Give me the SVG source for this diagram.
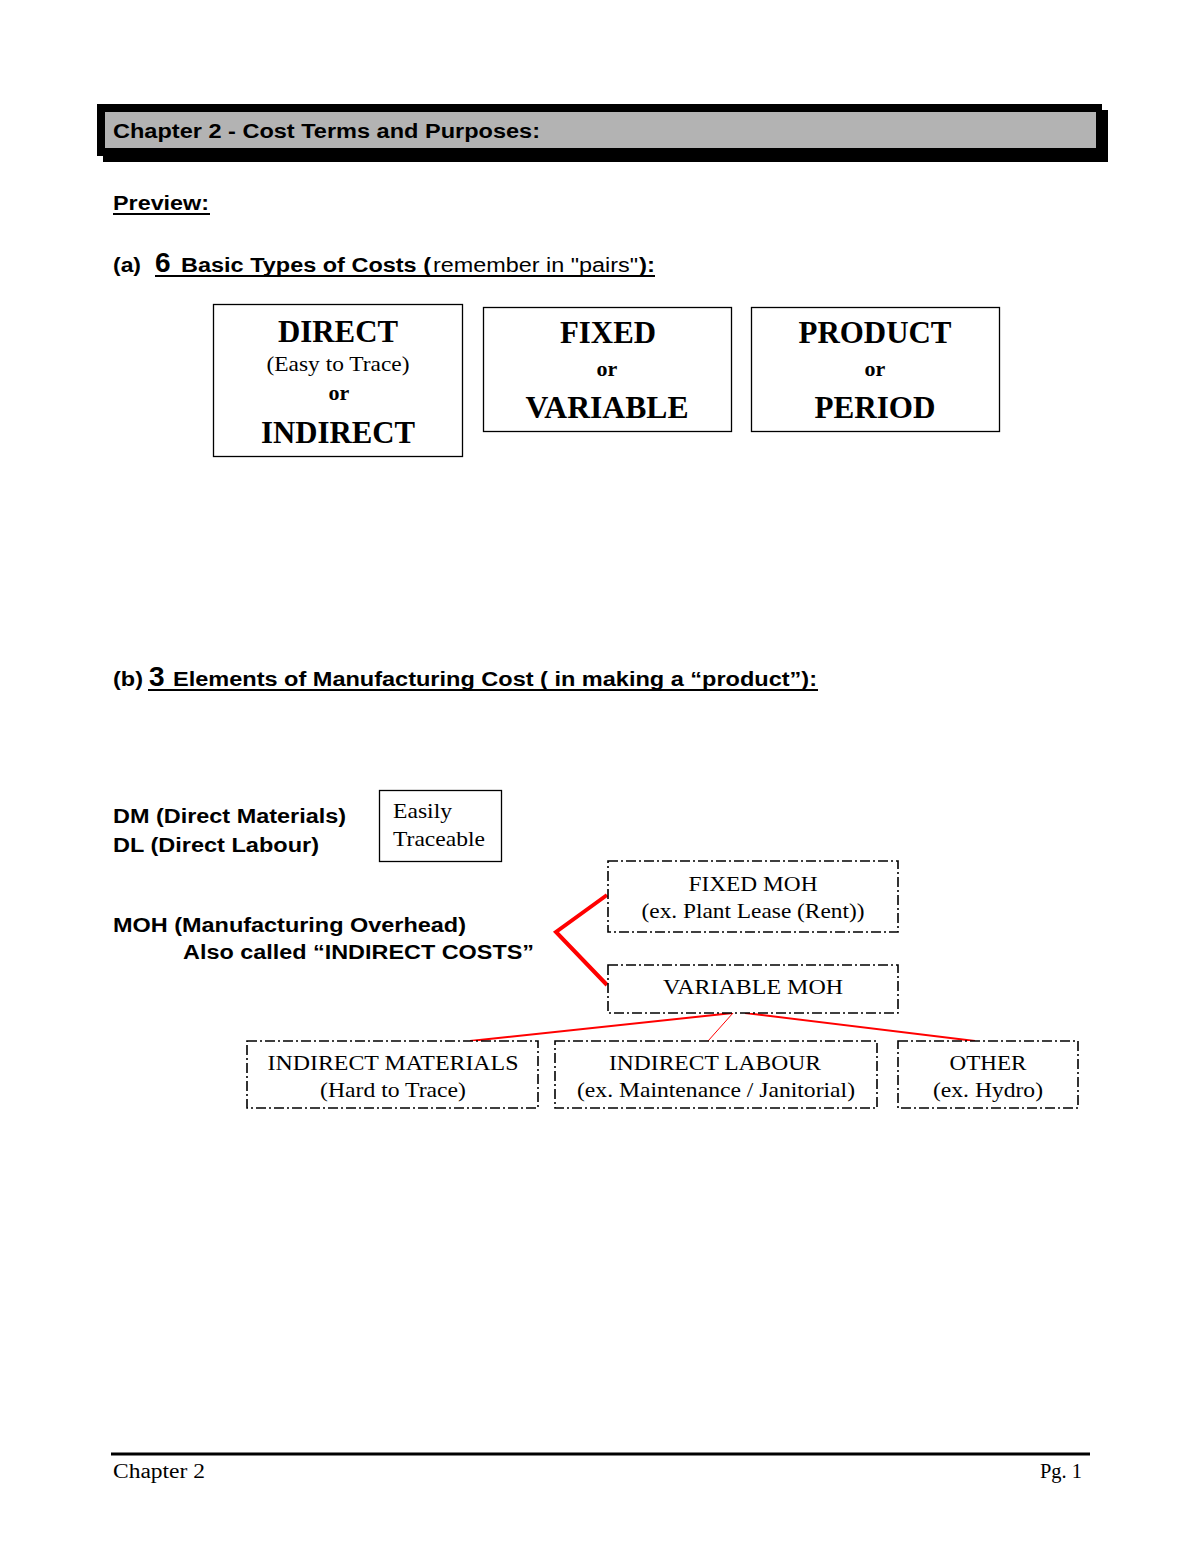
<svg xmlns="http://www.w3.org/2000/svg" width="1200" height="1553" viewBox="0 0 1200 1553">
<style>
.sans{font-family:"Liberation Sans",Arial,sans-serif;fill:#000}
.b{font-weight:bold}
.serif{font-family:"Liberation Serif","Times New Roman",serif;fill:#000}
.big{font-size:31px;font-weight:bold}
.mid{font-size:22px}
.box{fill:#fff;stroke:#000;stroke-width:1.3}
.dbox{fill:#fff;stroke:#000;stroke-width:1.6;stroke-dasharray:10 3 2 3}
.red{stroke:#f00;fill:none}
</style>
<rect width="1200" height="1553" fill="#fff"/>
<g id="header">
<rect x="103" y="110" width="1005" height="52" fill="#000"/>
<rect x="97" y="104" width="1005" height="52" fill="#000"/>
<rect x="105" y="112" width="991" height="36" fill="#b3b3b3"/>
<text class="sans b" x="113" y="138" font-size="20" textLength="427" lengthAdjust="spacingAndGlyphs">Chapter 2 - Cost Terms and Purposes:</text>
</g>
<g id="preview">
<text class="sans b" x="113" y="210" font-size="20" textLength="96" lengthAdjust="spacingAndGlyphs">Preview:</text>
<line x1="113" y1="214" x2="210" y2="214" stroke="#000" stroke-width="2"/>
</g>
<g id="section-a">
<text class="sans b" x="113" y="272" font-size="20" textLength="28" lengthAdjust="spacingAndGlyphs">(a)</text>
<text class="sans b" x="155" y="272" font-size="28">6</text>
<text class="sans b" x="181" y="272" font-size="20" textLength="250" lengthAdjust="spacingAndGlyphs">Basic Types of Costs (</text>
<text class="sans" x="433" y="272" font-size="20" textLength="205" lengthAdjust="spacingAndGlyphs">remember in "pairs"</text>
<text class="sans b" x="639" y="272" font-size="20" textLength="16" lengthAdjust="spacingAndGlyphs">):</text>
<line x1="155" y1="276" x2="655" y2="276" stroke="#000" stroke-width="2"/>
</g>
<g id="box-direct">
<rect class="box" x="213.5" y="304.5" width="249" height="152"/>
<text class="serif big" x="338" y="342" text-anchor="middle" textLength="120" lengthAdjust="spacingAndGlyphs">DIRECT</text>
<text class="serif mid" x="338" y="371" text-anchor="middle" textLength="143" lengthAdjust="spacingAndGlyphs">(Easy to Trace)</text>
<text class="serif mid b" x="339" y="400" text-anchor="middle">or</text>
<text class="serif big" x="338" y="443" text-anchor="middle" textLength="154" lengthAdjust="spacingAndGlyphs">INDIRECT</text>
</g>
<g id="box-fixed">
<rect class="box" x="483.5" y="307.5" width="248" height="124"/>
<text class="serif big" x="608" y="343" text-anchor="middle" textLength="96" lengthAdjust="spacingAndGlyphs">FIXED</text>
<text class="serif mid b" x="607" y="376" text-anchor="middle">or</text>
<text class="serif big" x="607" y="418" text-anchor="middle" textLength="163" lengthAdjust="spacingAndGlyphs">VARIABLE</text>
</g>
<g id="box-product">
<rect class="box" x="751.5" y="307.5" width="248" height="124"/>
<text class="serif big" x="875" y="343" text-anchor="middle" textLength="153" lengthAdjust="spacingAndGlyphs">PRODUCT</text>
<text class="serif mid b" x="875" y="376" text-anchor="middle">or</text>
<text class="serif big" x="875" y="418" text-anchor="middle" textLength="121" lengthAdjust="spacingAndGlyphs">PERIOD</text>
</g>
<g id="section-b">
<text class="sans b" x="113" y="686" font-size="20" textLength="30" lengthAdjust="spacingAndGlyphs">(b)</text>
<text class="sans b" x="149" y="686" font-size="28">3</text>
<text class="sans b" x="173" y="686" font-size="20" textLength="644" lengthAdjust="spacingAndGlyphs">Elements of Manufacturing Cost ( in making a “product”):</text>
<line x1="148" y1="690" x2="818" y2="690" stroke="#000" stroke-width="2"/>
</g>
<g id="dm-dl">
<text class="sans b" x="113" y="823" font-size="20" textLength="233" lengthAdjust="spacingAndGlyphs">DM (Direct Materials)</text>
<text class="sans b" x="113" y="852" font-size="20" textLength="206" lengthAdjust="spacingAndGlyphs">DL (Direct Labour)</text>
</g>
<g id="box-easily">
<rect class="box" x="379.5" y="790.5" width="122" height="71"/>
<text class="serif mid" x="393" y="818" textLength="59" lengthAdjust="spacingAndGlyphs">Easily</text>
<text class="serif mid" x="393" y="846" textLength="92" lengthAdjust="spacingAndGlyphs">Traceable</text>
</g>
<g id="moh">
<text class="sans b" x="113" y="932" font-size="20" textLength="353" lengthAdjust="spacingAndGlyphs">MOH (Manufacturing Overhead)</text>
<text class="sans b" x="183" y="959" font-size="20" textLength="351" lengthAdjust="spacingAndGlyphs">Also called “INDIRECT COSTS”</text>
</g>
<g id="connectors">
<polyline class="red" points="607,895 556,932 607,985" stroke-width="4" stroke-linejoin="miter"/>
<line class="red" x1="733" y1="1013" x2="470" y2="1041" stroke-width="2"/>
<line class="red" x1="745" y1="1013" x2="975" y2="1041" stroke-width="2"/>
<line class="red" x1="733" y1="1013" x2="708" y2="1041" stroke-width="1"/>
</g>
<g id="box-fixed-moh">
<rect class="dbox" x="608" y="861" width="290" height="71"/>
<text class="serif mid" x="753" y="891" text-anchor="middle" textLength="129" lengthAdjust="spacingAndGlyphs">FIXED MOH</text>
<text class="serif mid" x="753" y="918" text-anchor="middle" textLength="223" lengthAdjust="spacingAndGlyphs">(ex. Plant Lease (Rent))</text>
</g>
<g id="box-variable-moh">
<rect class="dbox" x="608" y="965" width="290" height="48"/>
<text class="serif mid" x="753" y="994" text-anchor="middle" textLength="180" lengthAdjust="spacingAndGlyphs">VARIABLE MOH</text>
</g>
<g id="box-indirect-materials">
<rect class="dbox" x="247" y="1041" width="291" height="67"/>
<text class="serif mid" x="393" y="1070" text-anchor="middle" textLength="251" lengthAdjust="spacingAndGlyphs">INDIRECT MATERIALS</text>
<text class="serif mid" x="393" y="1097" text-anchor="middle" textLength="146" lengthAdjust="spacingAndGlyphs">(Hard to Trace)</text>
</g>
<g id="box-indirect-labour">
<rect class="dbox" x="555" y="1041" width="322" height="67"/>
<text class="serif mid" x="715" y="1070" text-anchor="middle" textLength="212" lengthAdjust="spacingAndGlyphs">INDIRECT LABOUR</text>
<text class="serif mid" x="716" y="1097" text-anchor="middle" textLength="278" lengthAdjust="spacingAndGlyphs">(ex. Maintenance / Janitorial)</text>
</g>
<g id="box-other">
<rect class="dbox" x="898" y="1041" width="180" height="67"/>
<text class="serif mid" x="988" y="1070" text-anchor="middle" textLength="77" lengthAdjust="spacingAndGlyphs">OTHER</text>
<text class="serif mid" x="988" y="1097" text-anchor="middle" textLength="110" lengthAdjust="spacingAndGlyphs">(ex. Hydro)</text>
</g>
<g id="footer">
<line x1="111" y1="1454" x2="1090" y2="1454" stroke="#000" stroke-width="3"/>
<text class="serif" x="113" y="1478" font-size="20" textLength="92" lengthAdjust="spacingAndGlyphs">Chapter 2</text>
<text class="serif" x="1082" y="1478" font-size="20" text-anchor="end" textLength="42" lengthAdjust="spacingAndGlyphs">Pg. 1</text>
</g>
</svg>
